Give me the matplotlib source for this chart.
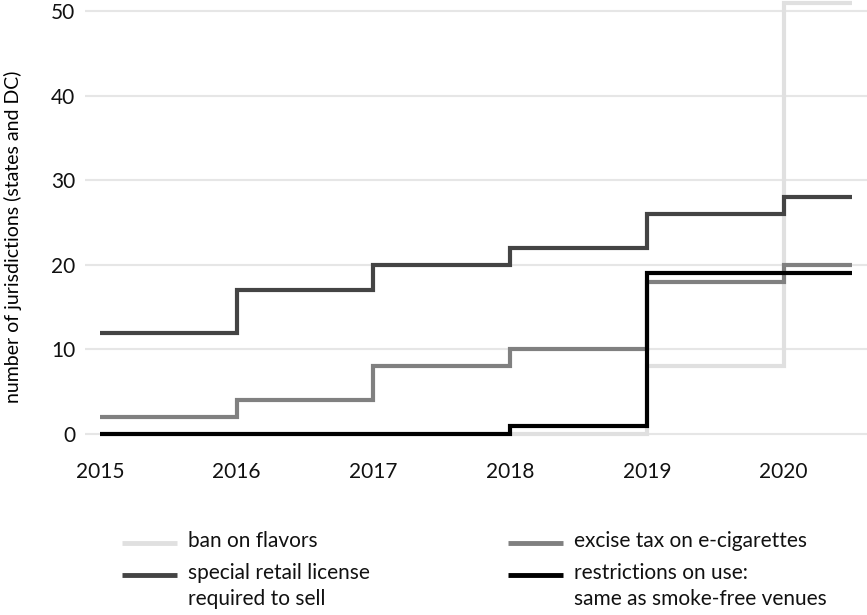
import matplotlib
matplotlib.use('Agg')
import matplotlib.pyplot as plt
from matplotlib.lines import Line2D

# data
years = [2015, 2016, 2017, 2018, 2019, 2020]
end_year = 2020.5
ban_flavors = [0, 0, 0, 0, 8, 51]
retail_license = [12, 17, 20, 22, 26, 28]
excise_tax = [2, 4, 8, 10, 18, 20]
use_restrictions = [0, 0, 0, 1, 19, 19]

labels = ['ban on flavors',
          'special retail license\nrequired to sell',
          'excise tax on e-cigarettes',
          'restrictions on use:\nsame as smoke-free venues']
colors = ['#e0e0e0', '#444444', '#808080', '#000000']
values = [ban_flavors, retail_license, excise_tax, use_restrictions]

plt.rcParams['font.family'] = ['Lato', 'DejaVu Sans']

W, H = 867, 615
fig = plt.figure(figsize=(W / 100, H / 100), dpi=100)
ax = fig.add_axes([0.098, 0.2805, 0.902, 0.7195])

xs = years + [end_year]
for sLabel, vVals, sColor in zip(labels, values, colors):
    ax.step(xs, vVals + [vVals[-1]], where='post', color=sColor, lw=3,
            label=sLabel, solid_joinstyle='miter', solid_capstyle='butt')

ax.set_xlim(2014.89, 2020.61)
ax.set_ylim(-1, 51.3)
ax.set_yticks([0, 10, 20, 30, 40, 50])
ax.set_xticks(years)
ax.grid(axis='y', color='#e6e6e6', lw=1.5)
ax.set_axisbelow(True)
for s in ax.spines.values():
    s.set_visible(False)
ax.tick_params(axis='both', length=0, colors='#111111', labelsize=15)
ax.tick_params(axis='x', pad=14)
ax.tick_params(axis='y', pad=7)
ax.set_ylabel('number of jurisdictions (states and DC)', fontsize=14)
ax.yaxis.set_label_coords(-0.081, 0.464)

# legend drawn by hand so the key sits on the first text line
legend_pos = [(122, 543), (122, 575), (508, 543), (508, 575)]
for (px, py), sLabel, sColor in zip(legend_pos, labels, colors):
    fig.add_artist(Line2D([px / W, (px + 55) / W], [1 - py / H, 1 - py / H],
                          color=sColor, lw=3.5, solid_capstyle='butt'))
    fig.text((px + 66) / W, 1 - (py - 12) / H, sLabel, fontsize=15,
             va='top', ha='left', color='#111111', linespacing=1.38)

fig.savefig('out.png', dpi=100)
